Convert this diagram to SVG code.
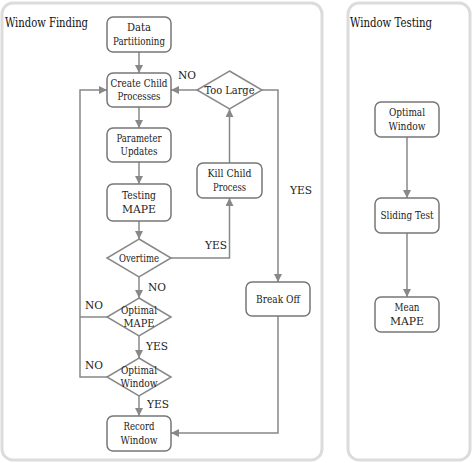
<svg xmlns="http://www.w3.org/2000/svg" width="474" height="463" viewBox="0 0 474 463">
<style>
.panel{fill:#fff;stroke:#dcdcdc;stroke-width:3}
.box{fill:#fff;stroke:#777;stroke-width:1.5}
.dia{fill:#fff;stroke:#888;stroke-width:1.5}
text{font-family:'DejaVu Serif Condensed','DejaVu Serif',serif;font-stretch:condensed}
.t{font-size:11px;fill:#222;text-anchor:middle}
.title{font-size:12px;fill:#111}
.lbl{font-size:11.5px;fill:#222}
.c{fill:none;stroke:#888;stroke-width:1.5}
</style>
<defs>
<marker id="ah" viewBox="0 0 10 10" refX="10" refY="5" markerWidth="8" markerHeight="8" markerUnits="userSpaceOnUse" orient="auto">
<path d="M0,0 L10,5 L0,10 z" fill="#888"/>
</marker>
</defs>
<rect width="474" height="463" fill="#fff"/>
<g id="panel-finding">
<rect class="panel" x="2" y="3" width="320" height="457" rx="11"/>
<text class="title" x="5" y="27" textLength="83" lengthAdjust="spacingAndGlyphs">Window Finding</text>
</g>
<g id="panel-testing">
<rect class="panel" x="348" y="3" width="122" height="457" rx="11"/>
<text class="title" x="350" y="27" textLength="82" lengthAdjust="spacingAndGlyphs">Window Testing</text>
</g>
<g id="connectors">
<path class="c" d="M139,52 V73" marker-end="url(#ah)"/>
<path class="c" d="M139,107 V128" marker-end="url(#ah)"/>
<path class="c" d="M139,162 V184" marker-end="url(#ah)"/>
<path class="c" d="M139,221 V239" marker-end="url(#ah)"/>
<path class="c" d="M139,277 V298" marker-end="url(#ah)"/>
<path class="c" d="M139,336 V358" marker-end="url(#ah)"/>
<path class="c" d="M139,396 V416" marker-end="url(#ah)"/>
<path class="c" d="M107,377 H80 V90 H107" marker-end="url(#ah)"/>
<path class="c" d="M107,317 H80"/>
<path class="c" d="M171,258 H229.5 V198" marker-end="url(#ah)"/>
<path class="c" d="M229.5,163 V109" marker-end="url(#ah)"/>
<path class="c" d="M197,90 H171" marker-end="url(#ah)"/>
<path class="c" d="M262,90 H278 V282" marker-end="url(#ah)"/>
<path class="c" d="M278,316 V433 H171" marker-end="url(#ah)"/>
<path class="c" d="M407,137 V198" marker-end="url(#ah)"/>
<path class="c" d="M407,233 V297" marker-end="url(#ah)"/>
<text class="lbl" x="178" y="79" textLength="18" lengthAdjust="spacingAndGlyphs">NO</text>
<text class="lbl" x="205" y="249" textLength="22" lengthAdjust="spacingAndGlyphs">YES</text>
<text class="lbl" x="290" y="194" textLength="22" lengthAdjust="spacingAndGlyphs">YES</text>
<text class="lbl" x="148" y="291" textLength="18" lengthAdjust="spacingAndGlyphs">NO</text>
<text class="lbl" x="85" y="309" textLength="18" lengthAdjust="spacingAndGlyphs">NO</text>
<text class="lbl" x="146" y="350" textLength="22" lengthAdjust="spacingAndGlyphs">YES</text>
<text class="lbl" x="85" y="369" textLength="18" lengthAdjust="spacingAndGlyphs">NO</text>
<text class="lbl" x="147" y="408" textLength="22" lengthAdjust="spacingAndGlyphs">YES</text>
</g>
<g id="data-partitioning">
<rect class="box" x="107" y="17" width="64" height="35" rx="6"/>
<text class="t" x="139" y="31" textLength="24" lengthAdjust="spacingAndGlyphs">Data</text>
<text class="t" x="139" y="45" textLength="52" lengthAdjust="spacingAndGlyphs">Partitioning</text>
</g>
<g id="create-child">
<rect class="box" x="107" y="73" width="64" height="34" rx="6"/>
<text class="t" x="139" y="87" textLength="57" lengthAdjust="spacingAndGlyphs">Create Child</text>
<text class="t" x="139" y="100" textLength="43" lengthAdjust="spacingAndGlyphs">Processes</text>
</g>
<g id="parameter-updates">
<rect class="box" x="107" y="128" width="64" height="34" rx="6"/>
<text class="t" x="139" y="142" textLength="45" lengthAdjust="spacingAndGlyphs">Parameter</text>
<text class="t" x="139" y="155" textLength="37" lengthAdjust="spacingAndGlyphs">Updates</text>
</g>
<g id="testing-mape">
<rect class="box" x="107" y="184" width="64" height="37" rx="6"/>
<text class="t" x="139" y="199" textLength="34" lengthAdjust="spacingAndGlyphs">Testing</text>
<text class="t" x="139" y="213" textLength="34" lengthAdjust="spacingAndGlyphs">MAPE</text>
</g>
<g id="overtime">
<polygon class="dia" points="139,239 171,258 139,277 107,258"/>
<text class="t" x="139" y="262" textLength="40" lengthAdjust="spacingAndGlyphs">Overtime</text>
</g>
<g id="optimal-mape">
<polygon class="dia" points="139,298 171,317 139,336 107,317"/>
<text class="t" x="139" y="314" textLength="36" lengthAdjust="spacingAndGlyphs">Optimal</text>
<text class="t" x="139" y="327" textLength="31" lengthAdjust="spacingAndGlyphs">MAPE</text>
</g>
<g id="optimal-window-check">
<polygon class="dia" points="139,358 171,377 139,396 107,377"/>
<text class="t" x="139" y="374" textLength="36" lengthAdjust="spacingAndGlyphs">Optimal</text>
<text class="t" x="139" y="387" textLength="37" lengthAdjust="spacingAndGlyphs">Window</text>
</g>
<g id="record-window">
<rect class="box" x="107" y="416" width="64" height="35" rx="6"/>
<text class="t" x="139" y="430" textLength="31" lengthAdjust="spacingAndGlyphs">Record</text>
<text class="t" x="139" y="444" textLength="37" lengthAdjust="spacingAndGlyphs">Window</text>
</g>
<g id="too-large">
<polygon class="dia" points="229.5,71 262,90 229.5,109 197,90"/>
<text class="t" x="229.5" y="94" textLength="50" lengthAdjust="spacingAndGlyphs">Too Large</text>
</g>
<g id="kill-child">
<rect class="box" x="197" y="163" width="65" height="35" rx="6"/>
<text class="t" x="229.5" y="177" textLength="44" lengthAdjust="spacingAndGlyphs">Kill Child</text>
<text class="t" x="229.5" y="191" textLength="33" lengthAdjust="spacingAndGlyphs">Process</text>
</g>
<g id="break-off">
<rect class="box" x="246" y="282" width="64" height="34" rx="6"/>
<text class="t" x="278" y="303" textLength="44" lengthAdjust="spacingAndGlyphs">Break Off</text>
</g>
<g id="optimal-window">
<rect class="box" x="375" y="102" width="64" height="35" rx="6"/>
<text class="t" x="407" y="116" textLength="36" lengthAdjust="spacingAndGlyphs">Optimal</text>
<text class="t" x="407" y="130" textLength="37" lengthAdjust="spacingAndGlyphs">Window</text>
</g>
<g id="sliding-test">
<rect class="box" x="375" y="198" width="64" height="35" rx="6"/>
<text class="t" x="407" y="219" textLength="53" lengthAdjust="spacingAndGlyphs">Sliding Test</text>
</g>
<g id="mean-mape">
<rect class="box" x="375" y="297" width="64" height="35" rx="6"/>
<text class="t" x="407" y="311" textLength="25" lengthAdjust="spacingAndGlyphs">Mean</text>
<text class="t" x="407" y="325" textLength="34" lengthAdjust="spacingAndGlyphs">MAPE</text>
</g>
</svg>
